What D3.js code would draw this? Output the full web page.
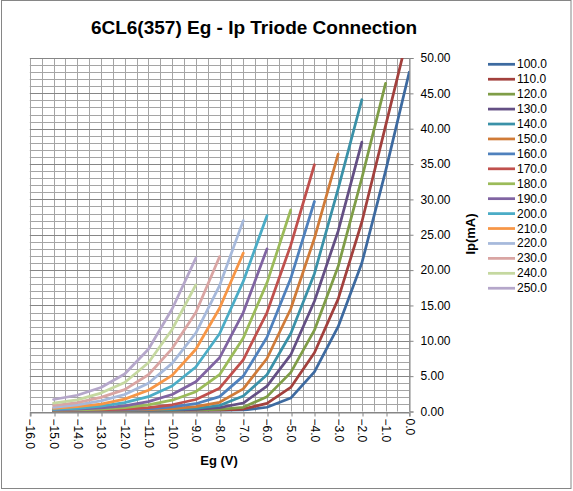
<!DOCTYPE html>
<html>
<head>
<meta charset="utf-8">
<script src="https://cdn.jsdelivr.net/npm/d3@7"></script>
<style>
  html, body { margin: 0; padding: 0; background: #fff; }
  svg { display: block; font-family: "Liberation Sans", Arial, sans-serif; }
</style>
</head>
<body>
<svg id="chart" width="573" height="491"></svg>
<script>
// ---------- data ----------
const chartTitle = "6CL6(357) Eg - Ip Triode Connection";
const xAxisTitle = "Eg (V)";
const yAxisTitle = "Ip(mA)";

// grid voltage points, every series starts at -15 V
const gridVolts = [-15, -14, -13, -12, -11, -10, -9, -8, -7, -6, -5, -4, -3, -2, -1, 0];

// plate voltage series names
const plateLabels = ["100.0", "110.0", "120.0", "130.0", "140.0", "150.0", "160.0", "170.0",
                     "180.0", "190.0", "200.0", "210.0", "220.0", "230.0", "240.0", "250.0"];

// plate current (mA), one array per plate voltage
const ip100 = [0.01, 0.02, 0.02, 0.03, 0.03, 0.04, 0.06, 0.10, 0.20, 0.60, 1.9, 5.6, 12.0, 21.0, 34.0, 48.0];
const ip110 = [0.02, 0.03, 0.03, 0.04, 0.05, 0.07, 0.10, 0.17, 0.35, 1.15, 3.4, 8.3, 15.9, 26.8, 40.4, 54.1];
const ip120 = [0.03, 0.04, 0.05, 0.06, 0.08, 0.12, 0.18, 0.30, 0.60, 2.1, 5.5, 11.5, 20.5, 33.0, 46.4];
const ip130 = [0.04, 0.05, 0.07, 0.09, 0.13, 0.19, 0.30, 0.55, 1.2, 3.6, 8.0, 15.6, 25.5, 38.1];
const ip140 = [0.05, 0.06, 0.09, 0.12, 0.18, 0.28, 0.45, 0.85, 2.2, 5.2, 11.0, 19.5, 31.5, 44.1];
const ip150 = [0.06, 0.08, 0.12, 0.17, 0.26, 0.42, 0.70, 1.3, 3.2, 7.5, 14.5, 24.5, 36.4];
const ip160 = [0.08, 0.11, 0.16, 0.25, 0.38, 0.65, 1.1, 2.1, 5.0, 10.5, 18.8, 29.7];
const ip170 = [0.10, 0.15, 0.22, 0.35, 0.55, 0.95, 1.7, 3.3, 7.3, 14.0, 23.5, 34.9];
const ip180 = [0.15, 0.22, 0.35, 0.55, 0.95, 1.6, 2.8, 5.2, 10.4, 18.2, 28.5];
const ip190 = [0.22, 0.32, 0.50, 0.80, 1.4, 2.4, 4.2, 7.6, 14.0, 23.0];
const ip200 = [0.30, 0.45, 0.75, 1.25, 2.1, 3.6, 6.3, 11.0, 18.4, 27.7];
const ip210 = [0.45, 0.70, 1.05, 1.75, 3.0, 5.1, 8.8, 14.6, 22.4];
const ip220 = [0.60, 0.95, 1.5, 2.4, 4.0, 6.8, 11.1, 17.8, 27.0];
const ip230 = [0.85, 1.25, 2.0, 3.1, 5.2, 8.9, 14.0, 21.9];
const ip240 = [1.2, 1.65, 2.6, 4.1, 6.9, 11.6, 17.9];
const ip250 = [1.7, 2.3, 3.4, 5.3, 8.8, 14.5, 21.7];

const seriesValues = [ip100, ip110, ip120, ip130, ip140, ip150, ip160, ip170,
                      ip180, ip190, ip200, ip210, ip220, ip230, ip240, ip250];

const seriesColors = ["#3d6aa0", "#a2403d", "#7f9d47", "#644f84", "#3a91a8", "#d07b38",
                      "#4f81bd", "#c0504d", "#9bbb59", "#8064a2", "#4bacc6", "#f79646",
                      "#a6b9db", "#d9a5a3", "#c5d8a0", "#b5a7ca"];

// axis ticks
const xTickValues = [-16, -15, -14, -13, -12, -11, -10, -9, -8, -7, -6, -5, -4, -3, -2, -1, 0];
const yTickValues = [0, 5, 10, 15, 20, 25, 30, 35, 40, 45, 50];

// ---------- layout ----------
const svg = d3.select("#chart");
const plot = { left: 29.8, right: 409.3, top: 58, bottom: 411.5 };

const x = d3.scaleLinear().domain([-16, 0]).range([plot.left, plot.right]);
const y = d3.scaleLinear().domain([0, 50]).range([plot.bottom, plot.top]);

// outer chart border
svg.append("rect")
  .attr("x", 1.5).attr("y", 0.5).attr("width", 569.5).attr("height", 488)
  .attr("fill", "#fff").attr("stroke", "#868686").attr("stroke-width", 1);

// title
svg.append("text")
  .attr("x", 254).attr("y", 34)
  .attr("text-anchor", "middle")
  .attr("font-size", 19).attr("font-weight", "bold")
  .attr("fill", "#000")
  .text(chartTitle);

// gridlines
const grid = svg.append("g");
const vGrid = d3.range(-16, 0.001, 0.5);
grid.selectAll("line.v").data(vGrid).enter().append("line")
  .attr("x1", d => Math.round(x(d)) + 0.5).attr("x2", d => Math.round(x(d)) + 0.5)
  .attr("y1", plot.top).attr("y2", plot.bottom)
  .attr("stroke", "#a5a5a5").attr("stroke-width", 1);
const hGrid = d3.range(0, 50.001, 1);
grid.selectAll("line.h").data(hGrid).enter().append("line")
  .attr("x1", plot.left).attr("x2", plot.right)
  .attr("y1", d => Math.round(y(d)) + 0.5).attr("y2", d => Math.round(y(d)) + 0.5)
  .attr("stroke", d => (d % 5 === 0) ? "#868686" : "#a5a5a5").attr("stroke-width", 1);

// axes
const xAxis = d3.axisBottom(x).tickValues(xTickValues).tickSize(4).tickFormat(d3.format(".1f"));
const gx = svg.append("g")
  .attr("transform", `translate(0,${Math.round(plot.bottom) + 0.5})`)
  .call(xAxis);
gx.select(".domain").attr("stroke", "#868686");
gx.selectAll(".tick line").attr("stroke", "#868686")
  .attr("transform", d => `translate(${Math.round(x(d)) + 0.5 - x(d)},0)`);
gx.selectAll(".tick text")
  .attr("font-family", "Liberation Sans, Arial, sans-serif")
  .attr("font-size", 12).attr("fill", "#000")
  .attr("text-anchor", "start")
  .attr("dominant-baseline", "central")
  .attr("transform", "rotate(90)")
  .attr("x", 6).attr("y", 0).attr("dy", null);

const yAxis = d3.axisRight(y).tickValues(yTickValues).tickSize(4).tickFormat(d3.format(".2f"));
const gy = svg.append("g")
  .attr("transform", `translate(${Math.round(plot.right) + 0.5},0)`)
  .call(yAxis);
gy.select(".domain").attr("stroke", "#868686");
gy.selectAll(".tick line").attr("stroke", "#868686");
gy.selectAll(".tick text")
  .attr("font-family", "Liberation Sans, Arial, sans-serif")
  .attr("font-size", 12).attr("fill", "#000")
  .attr("x", 11);

// axis titles
svg.append("text")
  .attr("x", 219).attr("y", 465)
  .attr("text-anchor", "middle")
  .attr("font-size", 13).attr("font-weight", "bold")
  .text(xAxisTitle);
svg.append("text")
  .attr("transform", "translate(475,234) rotate(-90)")
  .attr("text-anchor", "middle")
  .attr("font-size", 13).attr("font-weight", "bold")
  .text(yAxisTitle);

// clip for the plot area
svg.append("defs").append("clipPath").attr("id", "plotClip")
  .append("rect")
  .attr("x", plot.left).attr("y", plot.top)
  .attr("width", plot.right - plot.left).attr("height", plot.bottom - plot.top);

const line = d3.line()
  .x((d, i) => x(gridVolts[i]))
  .y(d => y(d));

const series = svg.append("g").attr("clip-path", "url(#plotClip)");
seriesValues.forEach((vals, k) => {
  series.append("path")
    .attr("d", line(vals))
    .attr("fill", "none")
    .attr("stroke", seriesColors[k])
    .attr("stroke-width", 2.75)
    .attr("stroke-linejoin", "round")
    .attr("stroke-linecap", "round");
});

// legend
const legend = svg.append("g");
plateLabels.forEach((lab, k) => {
  const ly = 64.3 + k * 14.93;
  legend.append("line")
    .attr("x1", 488).attr("x2", 515)
    .attr("y1", ly).attr("y2", ly)
    .attr("stroke", seriesColors[k]).attr("stroke-width", 2.75);
  legend.append("text")
    .attr("x", 517).attr("y", ly)
    .attr("dominant-baseline", "central")
    .attr("font-size", 12).attr("fill", "#000")
    .text(lab);
});
</script>
</body>
</html>
